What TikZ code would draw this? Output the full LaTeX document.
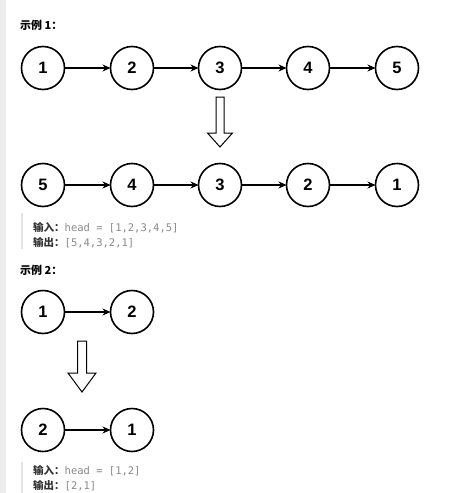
\documentclass[tikz,border=0pt]{standalone}
\usepackage{fontspec}
\setmainfont{Liberation Sans}
\setmonofont{DejaVu Sans Mono}
\newfontfamily\cjk{Noto Sans CJK SC}
\usetikzlibrary{arrows.meta}
\definecolor{codegray}{HTML}{8A8A8A}
\definecolor{quotebar}{HTML}{E4E4E4}
\definecolor{sidebar}{HTML}{EDEDED}
\begin{document}
\begin{tikzpicture}[x=1pt,y=-1pt,
  listnode/.style={circle,draw,line width=1.6pt,minimum size=43pt,inner sep=0pt,outer sep=0pt,
    font=\bfseries\fontsize{16.5}{16.5}\selectfont},
  nextptr/.style={-{Stealth[length=8pt,width=7pt]},line width=1.2pt},
  bigarrow/.style={draw,line width=1pt,fill=white,line join=miter},
  heading/.style={anchor=west,inner sep=0pt,font=\cjk\bfseries\fontsize{11}{11}\selectfont},
  codeline/.style={anchor=west,inner sep=0pt,font=\fontsize{10.5}{10.5}\selectfont}]
  \useasboundingbox (0,0) rectangle (474,493);
  \fill[white] (0,0) rectangle (474,493);
  \fill[sidebar] (0,0) rectangle (6,493);

  % Example 1
  \node[heading] (title1) at (20,25) {示例 1：};
  \node[listnode] (a1) at (43,68) {1};
  \node[listnode] (a2) at (132,68) {2};
  \node[listnode] (a3) at (220,68) {3};
  \node[listnode] (a4) at (308,68) {4};
  \node[listnode] (a5) at (397,68) {5};
  \draw[nextptr] (a1) -- (a2);
  \draw[nextptr] (a2) -- (a3);
  \draw[nextptr] (a3) -- (a4);
  \draw[nextptr] (a4) -- (a5);
  % reverse arrow
  \draw[bigarrow] (216,97) -- (224,97) -- (224,133) -- (232.5,133) -- (220,147)
    -- (207.5,133) -- (216,133) -- cycle;
  \node[listnode] (b5) at (43,185) {5};
  \node[listnode] (b4) at (132,185) {4};
  \node[listnode] (b3) at (220,185) {3};
  \node[listnode] (b2) at (308,185) {2};
  \node[listnode] (b1) at (397,185) {1};
  \draw[nextptr] (b5) -- (b4);
  \draw[nextptr] (b4) -- (b3);
  \draw[nextptr] (b3) -- (b2);
  \draw[nextptr] (b2) -- (b1);
  \fill[quotebar] (20.5,213) rectangle (23,249);
  \node[codeline] (in1) at (33,228) {{\cjk\bfseries\color{black!80}输入：}\ttfamily\color{codegray}head = [1,2,3,4,5]};
  \node[codeline] (out1) at (33,242.5) {{\cjk\bfseries\color{black!80}输出：}\ttfamily\color{codegray}[5,4,3,2,1]};

  % Example 2
  \node[heading] (title2) at (20,270) {示例 2：};
  \node[listnode] (c1) at (43,312) {1};
  \node[listnode] (c2) at (132,312) {2};
  \draw[nextptr] (c1) -- (c2);
  % reverse arrow
  \draw[bigarrow] (77.5,341) -- (86.5,341) -- (86.5,373) -- (96,373) -- (82,392)
    -- (68,373) -- (77.5,373) -- cycle;
  \node[listnode] (d2) at (43,430) {2};
  \node[listnode] (d1) at (132,430) {1};
  \draw[nextptr] (d2) -- (d1);
  \fill[quotebar] (20.5,462) rectangle (23,493);
  \node[codeline] (in2) at (33,471) {{\cjk\bfseries\color{black!80}输入：}\ttfamily\color{codegray}head = [1,2]};
  \node[codeline] (out2) at (33,485.5) {{\cjk\bfseries\color{black!80}输出：}\ttfamily\color{codegray}[2,1]};
\end{tikzpicture}
\end{document}
